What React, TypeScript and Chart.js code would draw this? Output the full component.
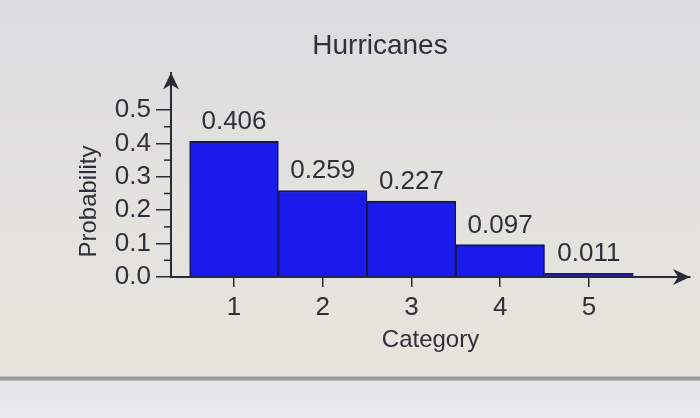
import React, { useEffect, useRef } from "react";
import { Chart, registerables } from "chart.js";

Chart.register(...registerables);

// ---- data ----
const categories = [1, 2, 3, 4, 5];
const probabilities = [0.406, 0.259, 0.227, 0.097, 0.011];
const yMajorTicks = [0, 0.1, 0.2, 0.3, 0.4, 0.5];
const yMinorTicks = [0.05, 0.15, 0.25, 0.35, 0.45];
const xTicks = [1, 2, 3, 4, 5];
const titleText = "Hurricanes";
const xTitle = "Category";
const yTitle = "Probability";

const TEXT = "#30303c";
const AXIS = "#2a2a36";
const BAR_FILL = "#1a1aec";
const BAR_EDGE = "#15155a";
const FONT = "'Liberation Sans', Arial, sans-serif";

export default function App() {
  const ref = useRef<HTMLCanvasElement>(null);

  useEffect(() => {
    if (!ref.current) return;

    const valueLabels = {
      id: "valueLabels",
      afterDatasetsDraw(chart: any) {
        const ctx = chart.ctx;
        const meta = chart.getDatasetMeta(0);
        ctx.save();
        ctx.font = `26px ${FONT}`;
        ctx.fillStyle = TEXT;
        ctx.textAlign = "center";
        ctx.textBaseline = "alphabetic";
        meta.data.forEach((el: any, i: number) => {
          const { x, y } = el.getProps(["x", "y"], true);
          ctx.fillText(probabilities[i].toFixed(3), x, y - 12);
        });
        ctx.restore();
      },
    };

    const axesDecor = {
      id: "axesDecor",
      afterDraw(chart: any) {
        const { ctx, chartArea, scales } = chart;
        const ys = scales.y;
        ctx.save();
        // minor ticks on y axis
        ctx.strokeStyle = AXIS;
        ctx.lineWidth = 1.5;
        yMinorTicks.forEach((v) => {
          const py = ys.getPixelForValue(v);
          ctx.beginPath();
          ctx.moveTo(chartArea.left - 7, py);
          ctx.lineTo(chartArea.left, py);
          ctx.stroke();
        });
        // arrow heads
        ctx.fillStyle = AXIS;
        const xr = chartArea.right;
        const yb = chartArea.bottom;
        ctx.beginPath();
        ctx.moveTo(xr, yb);
        ctx.lineTo(xr - 17, yb - 8);
        ctx.lineTo(xr - 12, yb);
        ctx.lineTo(xr - 17, yb + 8);
        ctx.closePath();
        ctx.fill();
        const xl = chartArea.left;
        const yt = chartArea.top;
        ctx.beginPath();
        ctx.moveTo(xl, yt);
        ctx.lineTo(xl - 8, yt + 17);
        ctx.lineTo(xl, yt + 12);
        ctx.lineTo(xl + 8, yt + 17);
        ctx.closePath();
        ctx.fill();
        // y axis title
        const cy = (ys.getPixelForValue(0) + ys.getPixelForValue(0.5)) / 2 + 8;
        ctx.translate(89, cy);
        ctx.rotate(-Math.PI / 2);
        ctx.font = `24px ${FONT}`;
        ctx.fillStyle = TEXT;
        ctx.textAlign = "center";
        ctx.textBaseline = "middle";
        ctx.fillText(yTitle, 0, 0);
        ctx.restore();
      },
    };

    const chart = new Chart(ref.current, {
      type: "bar",
      data: {
        datasets: [
          {
            data: categories.map((c, i) => ({ x: c, y: probabilities[i] })),
            backgroundColor: BAR_FILL,
            borderColor: BAR_EDGE,
            borderWidth: { top: 2, left: 1.5, right: 1.5, bottom: 0 },
            borderSkipped: false,
            barPercentage: 1,
            categoryPercentage: 1,
          },
        ],
      },
      options: {
        animation: false,
        responsive: false,
        devicePixelRatio: 1,
        layout: { padding: { left: 70, right: 10, top: 0, bottom: 0 } },
        plugins: {
          legend: { display: false },
          tooltip: { enabled: false },
          title: {
            display: true,
            text: titleText,
            color: TEXT,
            font: { family: FONT, size: 28, weight: "normal" },
            padding: { top: 29, bottom: 10 },
          },
        },
        scales: {
          x: {
            type: "linear",
            min: 0.29,
            max: 6.14,
            offset: false,
            afterBuildTicks: (s: any) => {
              s.ticks = xTicks.map((v) => ({ value: v }));
            },
            afterFit: (s: any) => {
              s.height = 141;
            },
            grid: {
              display: true,
              drawOnChartArea: false,
              drawTicks: true,
              tickLength: 10,
              color: AXIS,
              lineWidth: 1.5,
              offset: false,
            },
            border: { display: true, color: AXIS, width: 2 },
            ticks: {
              color: TEXT,
              font: { family: FONT, size: 26 },
              padding: 5,
              autoSkip: false,
              maxRotation: 0,
              callback: (v: any) => String(v),
            },
            title: {
              display: true,
              text: xTitle,
              color: TEXT,
              font: { family: FONT, size: 24 },
              padding: { top: 0, bottom: 63 },
            },
          },
          y: {
            type: "linear",
            min: 0,
            max: 0.612,
            afterBuildTicks: (s: any) => {
              s.ticks = yMajorTicks.map((v) => ({ value: v }));
            },
            afterFit: (s: any) => {
              s.width = 101;
            },
            grid: {
              display: true,
              drawOnChartArea: false,
              drawTicks: true,
              tickLength: 15,
              color: AXIS,
              lineWidth: 1.5,
            },
            border: { display: true, color: AXIS, width: 2 },
            ticks: {
              color: TEXT,
              font: { family: FONT, size: 26 },
              padding: 5,
              callback: (v: any) => Number(v).toFixed(1),
            },
          },
        },
      },
      plugins: [valueLabels, axesDecor],
    } as any);

    return () => chart.destroy();
  }, []);

  return (
    <div
      style={{
        position: "fixed",
        left: 0,
        top: 0,
        width: 700,
        height: 418,
        background:
          "linear-gradient(to bottom, #dcdce0 0px, #e3e2de 200px, #e6e4dc 376px, #9c9c9e 377px, #9c9c9e 380px, #e6e6e8 381px, #eaeaee 418px)",
      }}
    >
      <canvas ref={ref} width={700} height={418} style={{ display: "block" }} />
    </div>
  );
}
